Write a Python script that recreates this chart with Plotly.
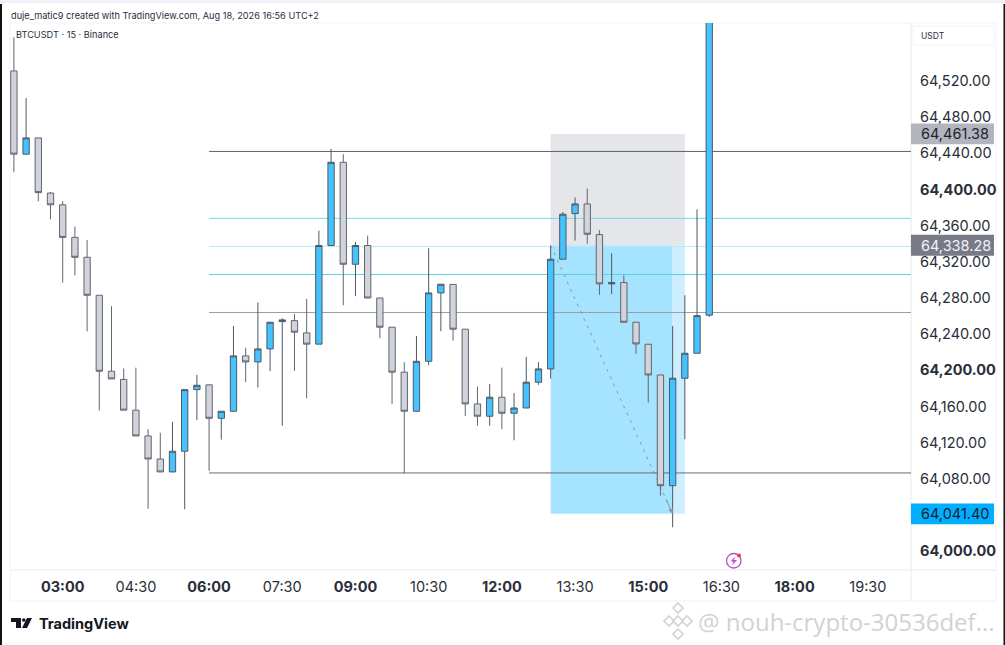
import plotly.graph_objects as go

# ---- data ----
opens = [64531, 64439, 64457, 64396, 64383, 64347, 64325, 64283, 64199, 64190,
         64156, 64127.5, 64102, 64087.7, 64110.6, 64178.7, 64184, 64147, 64154.8, 64216,
         64209.3, 64223.7, 64253.9, 64255, 64241.4, 64229, 64338, 64430, 64317.3, 64338,
         64280, 64247.7, 64198, 64154.8, 64210, 64285.6, 64295, 64245.5, 64162.9, 64149.3,
         64170.3, 64152.6, 64158.4, 64186.9, 64201.6, 64322.9, 64373.3, 64384, 64350.1, 64295.6,
         64297, 64253.2, 64228.9, 64194.9, 64072.5, 64191.3, 64218.9, 64261]
highs = [64568, 64501, 64457, 64397, 64387, 64359, 64344, 64283, 64271, 64202,
         64203, 64135, 64131, 64143, 64179, 64195, 64184, 64155, 64249, 64225,
         64275, 64253.2, 64257.6, 64262.4, 64279, 64354.5, 64445, 64439, 64342, 64349,
         64280, 64247.7, 64209, 64238, 64335, 64295.2, 64295.2, 64245.5, 64182, 64185,
         64203, 64175, 64215, 64209, 64338, 64375, 64391, 64401, 64355, 64329.5,
         64305, 64253.2, 64228.9, 64194.9, 64249, 64283, 64378, 64640]
lows = [64419, 64439, 64387, 64367, 64297, 64305, 64243, 64155.5, 64190.5, 64156,
        64127.5, 64047, 64087.7, 64087.7, 64046.4, 64145, 64089, 64123.4, 64154.8, 64187,
        64181, 64199, 64138.9, 64199.4, 64169, 64229, 64338, 64272, 64282, 64279.7,
        64235.5, 64163, 64086, 64154.8, 64205.7, 64243.3, 64233, 64149.6, 64138.9, 64138.9,
        64135, 64122.7, 64158.4, 64184, 64191, 64322.9, 64343.4, 64340, 64283.4, 64284.2,
        64253.2, 64218.2, 64164.3, 64061.5, 64026.5, 64123.8, 64218.9, 64259]
closes = [64439, 64457, 64396.5, 64383, 64347, 64325, 64283, 64199, 64190.5, 64156,
          64127.5, 64102, 64087.7, 64110.6, 64178.7, 64183.5, 64147, 64154.8, 64216, 64209.3,
          64223.7, 64253.2, 64255.8, 64242.2, 64229, 64338, 64430, 64317.3, 64338, 64280,
          64247.7, 64198, 64154.8, 64210, 64285.6, 64295.2, 64245.5, 64162.9, 64149.3, 64170.3,
          64152.6, 64158.4, 64186.9, 64201.6, 64322.9, 64372.6, 64384, 64350.5, 64295.6, 64297,
          64253.2, 64229.2, 64194.9, 64072.5, 64191.3, 64218.9, 64260.5, 64640]
bar_index = list(range(len(opens)))

x_tick_bars = [4, 10, 16, 22, 28, 34, 40, 46, 52, 58, 64, 70]
x_tick_labels = ["<b>03:00</b>", "04:30", "<b>06:00</b>", "07:30", "<b>09:00</b>", "10:30",
                 "<b>12:00</b>", "13:30", "<b>15:00</b>", "16:30", "<b>18:00</b>", "19:30"]
y_tick_values = [64000, 64080, 64120, 64160, 64200, 64240, 64280, 64320, 64360, 64400, 64440, 64480, 64520]
y_tick_labels = ["<b>64,000.00</b>", "64,080.00", "64,120.00", "64,160.00", "<b>64,200.00</b>", "64,240.00",
                 "64,280.00", "64,320.00", "64,360.00", "<b>64,400.00</b>", "64,440.00", "64,480.00", "64,520.00"]

stop_price = 64461.38
entry_price = 64338.28
target_price = 64041.40
trade_start_bar, trade_end_bar, trade_last_bar = 44, 54, 55
level_start_bar = 16
grey_levels = [(64442, "#5f6168"), (64264, "#9a9ca3"), (64086.6, "#6a6c73")]
cyan_levels = [(64368, "#6fdcec"), (64337, "#b5ecfa"), (64306, "#55d3e6")]

W, H = 1005, 645
PL, PR, PT, PB = 10, 911, 23, 570
FONT = "Inter, Liberation Sans, sans-serif"
def px(x): return x / W
def py(y): return 1 - y / H

fig = go.Figure(go.Candlestick(
    x=bar_index, open=opens, high=highs, low=lows, close=closes,
    whiskerwidth=0,
    increasing=dict(fillcolor="#45c3ff", line=dict(color="#4f5863", width=1)),
    decreasing=dict(fillcolor="#d1d4dc", line=dict(color="#62656d", width=1)),
    hoverinfo="skip", showlegend=False,
))

shapes = []
def rect_px(x0, y0, x1, y1, color, **kw):
    shapes.append(dict(type="rect", xref="paper", yref="paper", x0=px(x0), x1=px(x1), y0=py(y0), y1=py(y1),
                       fillcolor=color, line=dict(width=0), layer="above", **kw))
def line_px(x0, y0, x1, y1, color, width=1):
    shapes.append(dict(type="line", xref="paper", yref="paper", x0=px(x0), x1=px(x1), y0=py(y0), y1=py(y1),
                       line=dict(color=color, width=width), layer="below"))
def path_px(points, fill=None, color=None, width=0, closed=True):
    d = "M " + " L ".join(f"{px(a):.5f},{py(b):.5f}" for a, b in points) + (" Z" if closed else "")
    shapes.append(dict(type="path", xref="paper", yref="paper", path=d, fillcolor=fill or "rgba(0,0,0,0)",
                       line=dict(color=color or "rgba(0,0,0,0)", width=width), layer="above"))

# page furniture
rect_px(0, 0, W, 3, "#f0f0f8")
rect_px(0, 4, 2, H, "#111111")
rect_px(1003.5, 4, W, H, "#111111")
line_px(10, 23, 996, 23, "#f3f4f8")
line_px(10, 570, 996, 570, "#e8e9ee")
line_px(10, 601, 996, 601, "#f0f1f5")
line_px(911, 23, 911, 601, "#e8e9ee")
line_px(996, 23, 996, 601, "#f3f4f8")
line_px(10, 23, 10, 601, "#f3f4f8")
shapes.append(dict(type="rect", xref="paper", yref="paper", x0=px(913), x1=px(994), y0=py(26), y1=py(45),
                   line=dict(color="#f3f4f8", width=1), layer="below"))

# position tool
shapes.append(dict(type="rect", x0=trade_start_bar, x1=trade_last_bar, y0=entry_price, y1=stop_price,
                   fillcolor="#e5e6ea", line=dict(width=0), layer="below"))
shapes.append(dict(type="rect", x0=trade_start_bar, x1=trade_end_bar, y0=target_price, y1=entry_price,
                   fillcolor="#a6e3ff", line=dict(width=0), layer="below"))
shapes.append(dict(type="rect", x0=trade_end_bar, x1=trade_last_bar, y0=target_price, y1=entry_price,
                   fillcolor="#cdeeff", line=dict(width=0), layer="below"))
shapes.append(dict(type="line", x0=trade_start_bar, x1=trade_end_bar, y0=entry_price, y1=target_price,
                   line=dict(color="#8b98a3", width=1, dash="3px,5px"), layer="below"))

# horizontal levels
for value, colour in grey_levels:
    shapes.append(dict(type="line", xref="x", yref="y", x0=level_start_bar, x1=73.54, y0=value, y1=value,
                       line=dict(color=colour, width=1), layer="below"))
for value, colour in cyan_levels:
    shapes.append(dict(type="line", xref="x", yref="y", x0=level_start_bar, x1=73.54, y0=value, y1=value,
                       line=dict(color=colour, width=1), layer="below"))

annotations = []
def text_px(x, y, text, size, color="#131722", anchor="left", family=FONT):
    annotations.append(dict(xref="paper", yref="paper", x=px(x), y=py(y), text=text, showarrow=False,
                            xanchor=anchor, yanchor="middle", font=dict(size=size, color=color, family=family)))

# price tags
for value, fill, tcolor in [(stop_price, "#b2b5be", "#1e222d"),
                            (entry_price, "#787b86", "#f0f3fa"),
                            (target_price, "#00aeff", "#17222e")]:
    shapes.append(dict(type="rect", xref="paper", yref="y", x0=px(911), x1=px(994), y0=value - 11.5, y1=value + 11.5,
                       fillcolor=fill, line=dict(width=0), layer="above"))
    annotations.append(dict(xref="paper", yref="y", x=px(919), y=value, text=f"{value:,.2f}", showarrow=False,
                            xanchor="left", yanchor="middle", font=dict(size=14.5, color=tcolor, family=FONT)))

text_px(9, 15, "duje_matic9 created with TradingView.com, Aug 18, 2026 16:56 UTC+2", 9.2, "#2a2e39")
text_px(14, 35, "BTCUSDT · 15 · Binance", 9.2, "#2a2e39")
text_px(919, 36, "USDT", 8.5, "#2a2e39")
text_px(37, 623, "<b>TradingView</b>", 14.5, "#131722")

# TradingView mark
path_px([(11, 618), (21, 618), (21, 628), (16, 628), (16, 622), (11, 622)], fill="#131722")
path_px([(27, 618), (32, 618), (27, 628), (22, 628)], fill="#131722")
shapes.append(dict(type="circle", xref="paper", yref="paper", x0=px(22), x1=px(25.6), y0=py(621.8), y1=py(618.2),
                   fillcolor="#131722", line=dict(width=0), layer="above"))

# event marker
shapes.append(dict(type="circle", xref="paper", yref="paper", x0=px(726.5), x1=px(741), y0=py(568), y1=py(553.5),
                   fillcolor="#ffffff", line=dict(color="#b64fcb", width=1.3), layer="above"))
path_px([(735.5, 556.5), (730.5, 561.5), (733.5, 561.5), (732, 565.5), (737, 560), (734, 560)], fill="#b64fcb")
shapes.append(dict(type="circle", xref="paper", yref="paper", x0=px(737), x1=px(741), y0=py(557.5), y1=py(553.5),
                   fillcolor="#f23645", line=dict(width=0), layer="above"))

# watermark
wm = "#d2d2d2"
for cx, cy, r in [(678, 608, 5), (669, 621, 5), (687, 621, 5), (678, 634, 5), (678, 621, 5)]:
    path_px([(cx, cy - r), (cx + r, cy), (cx, cy + r), (cx - r, cy)], color=wm, width=1.6)
text_px(696, 621, "@ nouh-crypto-30536def...", 24, wm, family="Open Sans, sans-serif")

# end-of-path arrow
annotations.append(dict(x=trade_end_bar, y=target_price, ax=trade_end_bar - 0.6, ay=target_price + 18,
                        xref="x", yref="y", axref="x", ayref="y", text="", showarrow=True,
                        arrowhead=2, arrowsize=1, arrowwidth=1, arrowcolor="#8b98a3"))

fig.update_layout(
    width=W, height=H, margin=dict(l=0, r=0, t=0, b=0), autosize=False,
    paper_bgcolor="#ffffff", plot_bgcolor="#ffffff", boxgap=0.26,
    font=dict(family=FONT, color="#131722"), showlegend=False, hovermode=False,
    shapes=shapes, annotations=annotations,
    xaxis=dict(domain=[px(PL), px(PR)], range=[-0.32, 73.54], showgrid=False, zeroline=False,
               rangeslider=dict(visible=False), tickmode="array", tickvals=x_tick_bars, ticktext=x_tick_labels,
               ticks="", tickfont=dict(size=14.5, color="#2a2e39"), ticklabelstandoff=6),
    yaxis=dict(domain=[py(PB), py(PT)], range=[63979.3, 64584], side="right", showgrid=False, zeroline=False,
               tickmode="array", tickvals=y_tick_values, ticktext=y_tick_labels,
               ticks="", tickfont=dict(size=14.5, color="#2a2e39"), ticklabelstandoff=8),
)

fig.write_html("out.html", config=dict(displayModeBar=False),
               post_script="document.body.style.margin='0';document.body.style.overflow='hidden';")
